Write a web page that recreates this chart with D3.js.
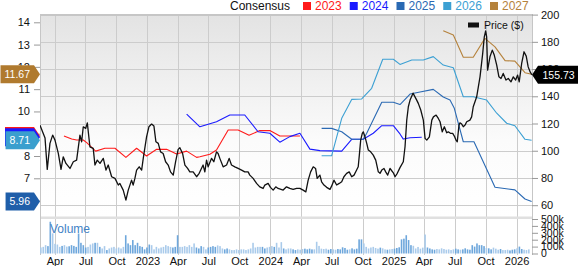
<!DOCTYPE html>
<html><head><meta charset="utf-8">
<script src="https://cdn.jsdelivr.net/npm/d3@7"></script>
<style>
body{margin:0;background:#fff;}
svg{display:block;font-family:"Liberation Sans",Arial,Helvetica,sans-serif;}
</style>
</head><body>
<svg id="c" width="578" height="266"></svg>
<script>
// ---------------- DATA ----------------
const seriesNames = ["2023","2024","2025","2026","2027"];

// consensus EPS estimates: [decimal year, EPS]
const eps2023 = [[2022.321,8.90],[2022.384,8.76],[2022.424,8.72],[2022.478,8.72],[2022.506,8.60],[2022.579,8.22],[2022.654,8.35],[2022.736,8.35],[2022.825,7.94],[2022.912,8.35],[2022.993,8.00],[2023.075,8.30],[2023.156,8.30],[2023.237,8.09],[2023.319,8.22],[2023.400,7.94],[2023.427,7.97],[2023.508,8.08],[2023.562,8.27],[2023.657,9.17],[2023.738,9.17],[2023.827,8.93],[2023.914,9.14],[2023.996,9.14],[2024.077,8.90],[2024.240,8.90]];
const eps2024 = [[2023.319,9.88],[2023.427,9.31],[2023.562,9.54],[2023.670,9.84],[2023.792,9.84],[2023.900,9.09],[2023.996,9.02],[2024.077,8.62],[2024.158,8.87],[2024.240,9.02],[2024.321,8.31],[2024.402,8.24],[2024.579,8.22],[2024.660,8.75],[2024.754,8.75],[2024.835,9.02],[2024.904,9.36],[2024.998,9.36],[2025.052,8.99],[2025.079,8.76],[2025.134,8.82],[2025.229,8.84]];
const eps2025 = [[2024.416,9.24],[2024.497,9.24],[2024.579,9.09],[2024.660,8.75],[2024.754,8.75],[2024.782,9.02],[2024.904,10.41],[2024.998,10.41],[2025.052,10.31],[2025.134,10.78],[2025.215,10.87],[2025.323,10.99],[2025.404,10.65],[2025.459,10.51],[2025.494,10.14],[2025.567,8.64],[2025.654,8.64],[2025.825,6.60],[2025.987,6.48],[2026.069,6.07],[2026.123,5.96]];
const eps2026 = [[2024.416,8.01],[2024.497,8.01],[2024.579,9.69],[2024.660,10.54],[2024.741,10.56],[2024.822,11.04],[2024.912,12.34],[2024.998,12.34],[2025.052,12.11],[2025.148,12.31],[2025.242,12.31],[2025.323,12.46],[2025.404,12.08],[2025.486,11.96],[2025.567,10.66],[2025.648,10.66],[2025.757,10.51],[2025.839,9.92],[2025.920,9.47],[2025.987,9.36],[2026.069,8.75],[2026.123,8.71]];
const eps2027 = [[2025.404,13.62],[2025.486,13.43],[2025.567,12.43],[2025.648,12.43],[2025.743,13.28],[2025.825,12.90],[2025.907,12.28],[2025.987,12.26],[2026.069,11.74],[2026.123,11.67]];

// share price: [decimal year, price $]
const price = [[2022.126,118.8],[2022.167,109.3],[2022.185,86.3],[2022.207,105.4],[2022.229,111.5],[2022.248,107.8],[2022.275,98.0],[2022.297,86.3],[2022.315,95.5],[2022.337,90.7],[2022.370,87.0],[2022.397,91.9],[2022.424,93.1],[2022.451,111.5],[2022.465,106.6],[2022.478,117.6],[2022.498,116.4],[2022.511,120.5],[2022.532,102.9],[2022.559,101.7],[2022.573,89.5],[2022.592,93.1],[2022.614,90.7],[2022.641,94.4],[2022.663,85.8],[2022.681,89.5],[2022.709,80.9],[2022.736,79.7],[2022.763,74.8],[2022.776,76.0],[2022.803,71.1],[2022.825,63.7],[2022.844,71.1],[2022.871,78.4],[2022.884,74.8],[2022.898,79.7],[2022.912,85.8],[2022.933,88.2],[2022.953,85.8],[2022.966,94.4],[2022.993,110.2],[2023.012,117.6],[2023.034,119.6],[2023.053,118.1],[2023.069,106.6],[2023.088,105.4],[2023.107,99.2],[2023.128,98.0],[2023.148,91.9],[2023.169,89.5],[2023.188,84.5],[2023.210,82.1],[2023.229,91.9],[2023.250,101.0],[2023.264,102.2],[2023.286,98.0],[2023.305,89.5],[2023.327,87.0],[2023.345,84.5],[2023.372,84.5],[2023.400,80.9],[2023.421,83.4],[2023.453,89.5],[2023.467,84.5],[2023.481,93.1],[2023.494,88.2],[2023.522,94.4],[2023.540,91.9],[2023.562,99.2],[2023.575,98.0],[2023.589,94.4],[2023.616,88.2],[2023.644,89.5],[2023.665,94.4],[2023.684,89.5],[2023.711,88.2],[2023.738,87.0],[2023.766,85.8],[2023.792,84.5],[2023.819,84.5],[2023.833,82.1],[2023.860,79.7],[2023.888,76.0],[2023.914,73.5],[2023.941,72.3],[2023.955,74.8],[2023.982,76.0],[2024.001,73.1],[2024.023,71.1],[2024.044,73.5],[2024.063,72.3],[2024.104,71.1],[2024.131,73.5],[2024.158,72.3],[2024.185,71.6],[2024.213,72.3],[2024.240,72.3],[2024.266,71.1],[2024.288,69.8],[2024.307,78.4],[2024.327,84.5],[2024.348,88.2],[2024.367,87.0],[2024.380,79.7],[2024.402,82.1],[2024.416,77.2],[2024.435,74.8],[2024.457,73.1],[2024.484,71.6],[2024.497,74.0],[2024.516,78.4],[2024.538,74.8],[2024.559,76.0],[2024.579,77.2],[2024.597,80.9],[2024.619,83.4],[2024.640,84.5],[2024.660,80.9],[2024.679,82.1],[2024.700,85.8],[2024.713,88.2],[2024.722,96.8],[2024.733,107.8],[2024.746,112.7],[2024.754,113.9],[2024.768,110.2],[2024.782,105.4],[2024.795,100.5],[2024.814,99.2],[2024.835,96.8],[2024.855,93.1],[2024.876,84.5],[2024.890,83.4],[2024.904,85.8],[2024.922,87.0],[2024.936,84.5],[2024.952,82.1],[2024.971,87.0],[2024.985,85.3],[2024.998,83.8],[2025.012,80.9],[2025.030,83.4],[2025.052,87.6],[2025.079,91.9],[2025.093,102.9],[2025.107,122.5],[2025.120,132.3],[2025.134,137.2],[2025.158,142.3],[2025.188,137.2],[2025.201,134.8],[2025.221,129.9],[2025.242,122.5],[2025.256,109.1],[2025.270,107.8],[2025.291,110.2],[2025.311,122.5],[2025.324,124.9],[2025.346,126.2],[2025.364,123.7],[2025.378,121.3],[2025.396,113.9],[2025.413,117.6],[2025.432,113.2],[2025.445,113.9],[2025.465,112.7],[2025.481,112.7],[2025.494,110.8],[2025.508,107.8],[2025.518,106.6],[2025.532,118.8],[2025.540,120.5],[2025.554,119.6],[2025.567,117.6],[2025.581,118.8],[2025.595,121.3],[2025.621,122.5],[2025.635,124.9],[2025.648,132.3],[2025.662,136.0],[2025.676,139.6],[2025.703,154.3],[2025.725,171.5],[2025.738,183.7],[2025.749,188.1],[2025.757,183.7],[2025.765,159.2],[2025.784,169.0],[2025.803,173.9],[2025.819,170.3],[2025.839,162.9],[2025.857,154.3],[2025.874,153.1],[2025.892,156.8],[2025.914,151.9],[2025.933,153.1],[2025.955,150.6],[2025.974,154.3],[2025.993,151.9],[2026.009,155.6],[2026.022,150.6],[2026.042,164.1],[2026.061,172.7],[2026.079,169.5],[2026.095,161.6],[2026.112,157.7],[2026.126,155.73]];

// weekly volume (thousands of shares), first week starting 2022-02-18
const volumeStart = "2022-02-18";
const volume = [
 87,96,121,107,460,292,140,130,96,110,121,100,105,
 121,110,96,290,155,121,87,96,130,146,155,155,96,
 73,107,50,73,87,96,73,87,73,96,265,146,121,
 195,121,155,107,96,60,87,130,121,60,96,73,87,
 96,121,107,96,87,96,265,96,96,107,96,121,96,
 146,87,73,107,96,60,87,96,107,96,117,107,73,
 60,73,60,50,50,60,50,60,60,50,60,73,155,
 87,96,96,96,73,87,96,107,96,155,87,165,73,
 60,73,73,60,50,60,55,65,70,60,70,60,60,
 170,110,70,65,70,55,65,60,55,65,60,90,80,
 55,60,75,60,70,205,205,146,96,73,87,96,80,
 70,85,75,60,55,60,65,70,80,90,205,215,265,
 195,121,112,73,95,70,85,275,87,73,60,55,65,
 60,75,65,55,60,50,60,70,60,55,60,75,60,
 55,121,100,146,121,121,107,80,75,60,85,70,55,
 65,50,50,55,45,55,60,75,100,65,55,50,60];

// axes
const epsTicks = [6,7,8,9,10,11,12,13,14];
const epsTickLabels = ["","7","8","","10","11","12","13","14"]; // 6 and 9 are hidden under the badges
const priceTicks = [60,80,100,120,140,160,180,200];
const volTicks = [0,100,200,300,400,500];
const volTickLabels = ["0","100k","200k","300k","400k","500k"];
const xTickDates = ["2022-04-01","2022-07-01","2022-10-01","2023-01-01","2023-04-01","2023-07-01","2023-10-01","2024-01-01","2024-04-01","2024-07-01","2024-10-01","2025-01-01","2025-04-01","2025-07-01","2025-10-01","2026-01-01"];
const xTickLabels = ["Apr","Jul","Oct","2023","Apr","Jul","Oct","2024","Apr","Jul","Oct","2025","Apr","Jul","Oct","2026"];

// ---------------- STYLE ----------------
const colors = {"2023":"#ff1a1a","2024":"#1a1aff","2025":"#2a69b3","2026":"#3ca0d3","2027":"#b5823c"};
const badgeColors = {"2023":"#ff1a1a","2024":"#1a1aff","2025":"#1f5ea9","2026":"#3a9fce","2027":"#b07a2e"};
const badgeLabelled = {"2023":false,"2024":false,"2025":true,"2026":true,"2027":true};
const FONT = 11;

// ---------------- CHART ----------------
const svg = d3.select("#c");
const L = 40, R = 532, T = 15, PB = 217, VB = 253.5, GB = 255;
const toDate = t => { const y = Math.floor(t), s = Date.UTC(y,0,1), e = Date.UTC(y+1,0,1); return new Date(s + (t-y)*(e-s)); };
const parse = d3.utcParse("%Y-%m-%d");

const x = d3.scaleUtc().domain([Date.UTC(2022,1,16), Date.UTC(2026,1,16)]).range([L,R]);
const yP = d3.scaleLinear().domain([60,200]).range([205.2,14.6]);
const yE = d3.scaleLinear().domain([7,14]).range([178.3,22.3]);
const yV = d3.scaleLinear().domain([0,500]).range([VB,219]);

const defs = svg.append("defs");
const g = defs.append("linearGradient").attr("id","bg").attr("x1",0).attr("y1",0).attr("x2",0).attr("y2",1);
g.append("stop").attr("offset","0%").attr("stop-color","#e3e3e3");
g.append("stop").attr("offset","62%").attr("stop-color","#fbfbfb");
g.append("stop").attr("offset","100%").attr("stop-color","#ffffff");
defs.append("clipPath").attr("id","clip").append("rect").attr("x",L).attr("y",T).attr("width",R-L).attr("height",PB-T);

svg.append("rect").attr("x",L).attr("y",T).attr("width",R-L).attr("height",PB-T).attr("fill","url(#bg)");

// grid
svg.append("g").selectAll("line").data(priceTicks.filter(d=>d<200)).join("line")
  .attr("x1",L).attr("x2",R).attr("y1",d=>Math.round(yP(d))+0.5).attr("y2",d=>Math.round(yP(d))+0.5)
  .attr("stroke","#cccccc").attr("stroke-width",1);
svg.append("g").selectAll("line").data(xTickDates).join("line")
  .attr("x1",d=>Math.round(x(parse(d)))+0.5).attr("x2",d=>Math.round(x(parse(d)))+0.5)
  .attr("y1",T).attr("y2",GB).attr("stroke","#cccccc").attr("stroke-width",1);

// panel separator and borders
svg.append("rect").attr("x",L).attr("y",216.5).attr("width",R-L).attr("height",2.5).attr("fill","#e0e0e0");
svg.append("line").attr("x1",L).attr("x2",R).attr("y1",15).attr("y2",15).attr("stroke","#c6c6c6").attr("stroke-width",2);
svg.append("line").attr("x1",L+0.5).attr("x2",L+0.5).attr("y1",14).attr("y2",GB).attr("stroke","#c6c6c6");
svg.append("line").attr("x1",R+0.5).attr("x2",R+0.5).attr("y1",14).attr("y2",GB).attr("stroke","#c6c6c6");

// volume bars
const vStart = parse(volumeStart);
const priceDates = price.map(d=>toDate(d[0]));
const priceAt = dt => {
  const i = d3.bisectLeft(priceDates, dt);
  if (i<=0) return price[0][1];
  if (i>=price.length) return price[price.length-1][1];
  const a = priceDates[i-1], b = priceDates[i];
  const f = (dt-a)/(b-a);
  return price[i-1][1] + f*(price[i][1]-price[i-1][1]);
};
const volData = volume.map((v,i)=>{ const d0 = d3.utcDay.offset(vStart, 7*i); const d1 = d3.utcDay.offset(d0,7); return {d:d0, v, up: priceAt(d1) >= priceAt(d0)}; });
svg.append("g").selectAll("rect").data(volData).join("rect")
  .attr("x",d=>x(d.d)-0.6).attr("width",1.6)
  .attr("y",d=>yV(d.v)).attr("height",d=>VB-yV(d.v))
  .attr("fill",d=>d.up?"#6ea7dc":"#aacbeb");
svg.append("text").attr("x",50).attr("y",233).attr("font-size",12).attr("fill","#3f82c6").text("Volume");

// EPS lines
const epsSeries = {"2023":eps2023,"2024":eps2024,"2025":eps2025,"2026":eps2026,"2027":eps2027};
const eLine = d3.line().x(d=>x(toDate(d[0]))).y(d=>yE(d[1]));
const lines = svg.append("g").attr("clip-path","url(#clip)");
seriesNames.forEach(n=>{
  lines.append("path").datum(epsSeries[n]).attr("d",eLine).attr("fill","none")
    .attr("stroke",colors[n]).attr("stroke-width",1.1).attr("stroke-linejoin","round");
});
// price line
const pLine = d3.line().x(d=>x(toDate(d[0]))).y(d=>yP(d[1]));
lines.append("path").datum(price).attr("d",pLine).attr("fill","none")
  .attr("stroke","#111").attr("stroke-width",1.3).attr("stroke-linejoin","round");

// axes
const axL = svg.append("g").attr("transform",`translate(${L},0)`)
  .call(d3.axisLeft(yE).tickValues(epsTicks).tickSize(6).tickPadding(4).tickFormat((d,i)=>epsTickLabels[i]));
const axR = svg.append("g").attr("transform",`translate(${R},0)`)
  .call(d3.axisRight(yP).tickValues(priceTicks).tickSize(6).tickPadding(3).tickFormat(d3.format("d")));
const axV = svg.append("g").attr("transform",`translate(${R},0)`)
  .call(d3.axisRight(yV).tickValues(volTicks).tickSize(6).tickPadding(3).tickFormat((d,i)=>volTickLabels[i]));
const axX = svg.append("g").attr("transform",`translate(0,${GB})`)
  .call(d3.axisBottom(x).tickValues(xTickDates.map(parse)).tickSize(0).tickPadding(2).tickFormat((d,i)=>xTickLabels[i]));
[axL,axR,axV,axX].forEach(a=>{
  a.select(".domain").remove();
  a.selectAll(".tick line").attr("stroke","#999");
  a.selectAll("text").attr("font-size",FONT).attr("fill","#111").attr("font-family","Liberation Sans, Arial, sans-serif");
});
axV.selectAll("text").attr("font-size",10.5);

// legend
svg.append("text").attr("x",230).attr("y",10).attr("font-size",12).attr("fill","#111").text("Consensus");
seriesNames.forEach((n,i)=>{
  const tx = 315 + i*46.75;
  svg.append("rect").attr("x",tx-12).attr("y",2).attr("width",8).attr("height",8).attr("fill",colors[n]);
  svg.append("text").attr("x",tx).attr("y",10).attr("font-size",12).attr("fill",colors[n]).text(n);
});
svg.append("rect").attr("x",468).attr("y",22.5).attr("width",11).attr("height",5).attr("fill","#111");
svg.append("text").attr("x",484).attr("y",29).attr("font-size",10.5).attr("fill","#111").text("Price ($)");

// left badges (last estimate of each year)
const fmt = d3.format(".2f");
seriesNames.forEach(n=>{
  const s = epsSeries[n]; const v = s[s.length-1][1]; const cy = yE(v);
  const bg = svg.append("g");
  let x0 = 5;
  if (badgeLabelled[n]) {
    const t = bg.append("text").attr("x",30).attr("y",cy+3.8).attr("text-anchor","end")
      .attr("font-size",10.5).attr("fill","#fff").text(fmt(v));
    const tw = t.node().getComputedTextLength();
    x0 = Math.max(0, 30 - tw - 4);
  }
  bg.insert("path",":first-child").attr("d",`M${x0},${cy-9}L34,${cy-9}L40,${cy}L34,${cy+9}L${x0},${cy+9}Z`).attr("fill",badgeColors[n]);
});
// right badge (last price)
{
  const v = price[price.length-1][1]; const cy = yP(v);
  svg.append("path").attr("d",`M${R},${cy}L538,${cy-9}L578,${cy-9}L578,${cy+9}L538,${cy+9}Z`).attr("fill","#000");
  svg.append("text").attr("x",542.5).attr("y",cy+3.8).attr("font-size",10.5).attr("fill","#fff").text(fmt(v));
}
</script>
</body></html>
